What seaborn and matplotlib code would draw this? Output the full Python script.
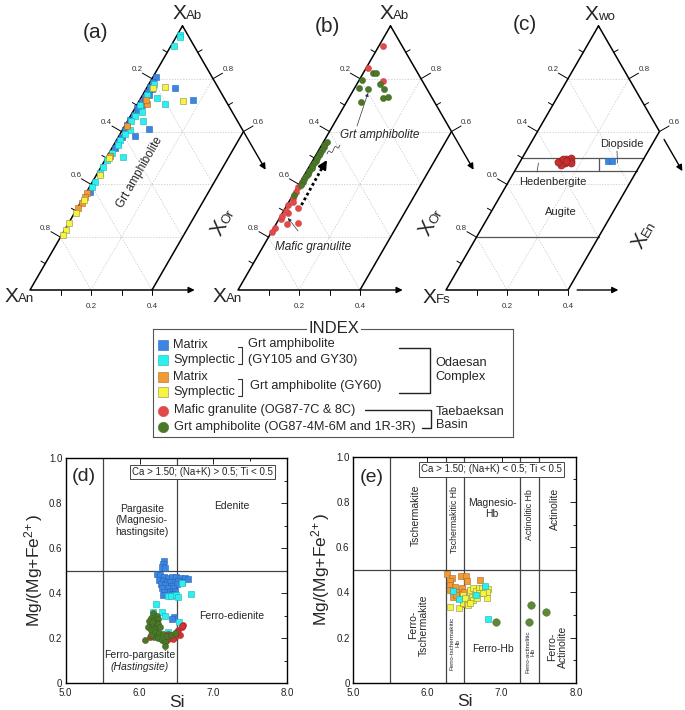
import numpy as np
import matplotlib
matplotlib.use('Agg')
import matplotlib.pyplot as plt
from matplotlib.ticker import MultipleLocator
import seaborn as sns

sns.set_style('white')
plt.rcParams['font.family'] = ['Liberation Sans', 'DejaVu Sans']
plt.rcParams['mathtext.fontset'] = 'custom'
plt.rcParams['mathtext.rm'] = 'Liberation Sans'
plt.rcParams['mathtext.it'] = 'Liberation Sans:italic'

# ---------------- data ----------------
# (a) plagioclase, fractions of Ab (top) and Or (right); An = 1 - Ab - Or
a_mtx1_ab = [0.806, 0.789, 0.77, 0.751, 0.732, 0.71, 0.688, 0.663, 0.644, 0.625, 0.606, 0.581,
             0.556, 0.537, 0.72, 0.70, 0.68, 0.76, 0.74, 0.372, 0.764, 0.72, 0.61, 0.583]
a_mtx1_or = [0.010, 0.010, 0.008, 0.012, 0.011, 0.011, 0.008, 0.008, 0.006, 0.006, 0.008, 0.010,
             0.011, 0.010, 0.016, 0.018, 0.014, 0.020, 0.020, 0.011, 0.093, 0.175, 0.085, 0.052]
a_sym1_ab = [0.966, 0.957, 0.924, 0.764, 0.739, 0.70, 0.66, 0.64, 0.606, 0.568, 0.55, 0.518,
             0.492, 0.467, 0.442, 0.41, 0.391, 0.726, 0.705, 0.672, 0.638, 0.505, 0.78, 0.59]
a_sym1_or = [0.009, 0.012, 0.010, 0.017, 0.013, 0.012, 0.015, 0.012, 0.025, 0.011, 0.012, 0.009,
             0.005, 0.007, 0.008, 0.008, 0.007, 0.054, 0.090, 0.030, 0.053, 0.054, 0.015, 0.016]
a_mtx2_ab = [0.705, 0.621, 0.508, 0.366, 0.353, 0.331, 0.309, 0.72]
a_mtx2_or = [0.030, 0.007, 0.008, 0.005, 0.004, 0.004, 0.004, 0.020]
a_sym2_ab = [0.768, 0.717, 0.764, 0.436, 0.341, 0.29, 0.253, 0.227, 0.208, 0.50]
a_sym2_or = [0.059, 0.144, 0.020, 0.011, 0.008, 0.006, 0.003, 0.003, 0.003, 0.010]

# (b) plagioclase, Taebaeksan Basin
b_gran_ab = [0.925, 0.842, 0.792, 0.41, 0.39, 0.37, 0.35, 0.334, 0.309, 0.29, 0.27, 0.25,
             0.252, 0.235, 0.221, 0.30, 0.32, 0.28]
b_gran_or = [0.012, 0.004, 0.078, 0.004, 0.003, 0.005, 0.004, 0.014, 0.043, 0.020, 0.007, 0.037,
             0.072, 0.004, 0.002, 0.006, 0.005, 0.003]
b_amph_ab = [0.562, 0.55, 0.54, 0.53, 0.52, 0.51, 0.50, 0.49, 0.48, 0.47, 0.46, 0.45, 0.44,
             0.43, 0.42, 0.41, 0.398, 0.36, 0.795, 0.82, 0.82, 0.763, 0.761, 0.779, 0.76,
             0.711, 0.726, 0.73]
b_amph_or = [0.010, 0.008, 0.012, 0.010, 0.009, 0.011, 0.008, 0.012, 0.010, 0.009, 0.011, 0.008,
             0.010, 0.009, 0.007, 0.008, 0.006, 0.004, 0.010, 0.033, 0.041, 0.016, 0.046, 0.076,
             0.100, 0.048, 0.111, 0.128]

# (c) pyroxene, Wo (top) and En (right)
c_gran_wo = [0.49, 0.485, 0.495, 0.48, 0.49, 0.50, 0.475, 0.485, 0.49, 0.48, 0.495, 0.487]
c_gran_en = [0.13, 0.14, 0.145, 0.15, 0.155, 0.16, 0.14, 0.125, 0.165, 0.17, 0.135, 0.15]
c_mtx1_wo = [0.49, 0.49]
c_mtx1_en = [0.287, 0.300]

# (d) amphibole, (Na+K) > 0.5
d_mtx1_si = [6.334, 6.32, 6.307, 6.34, 6.23, 6.276, 6.334, 6.39, 6.434, 6.49, 6.547, 6.61, 6.66,
             6.26, 6.32, 6.367, 6.41, 6.48, 6.52, 6.57, 6.29, 6.35, 6.43, 6.50, 6.30, 6.39,
             6.456, 6.33, 6.41, 6.48, 6.32, 6.44, 6.47, 6.44]
d_mtx1_mg = [0.545, 0.530, 0.518, 0.511, 0.484, 0.481, 0.474, 0.469, 0.474, 0.471, 0.467, 0.467,
             0.464, 0.459, 0.455, 0.449, 0.452, 0.452, 0.455, 0.449, 0.440, 0.437, 0.434, 0.440,
             0.425, 0.422, 0.422, 0.407, 0.407, 0.410, 0.392, 0.396, 0.296, 0.286]
d_sym1_si = [6.58, 6.39, 6.43, 6.49, 6.52, 6.70, 6.22, 6.185, 6.31, 6.35, 6.53, 6.39]
d_sym1_mg = [0.447, 0.389, 0.389, 0.392, 0.385, 0.397, 0.351, 0.318, 0.318, 0.300, 0.271, 0.227]
d_gran_si = [6.14, 6.57, 6.59, 6.52, 6.55, 6.48, 6.41, 6.39, 6.456, 6.50, 6.37, 6.58]
d_gran_mg = [0.207, 0.252, 0.259, 0.237, 0.215, 0.207, 0.203, 0.218, 0.197, 0.227, 0.192, 0.255]
d_amph_si = [6.185, 6.23, 6.16, 6.20, 6.25, 6.14, 6.185, 6.23, 6.21, 6.118, 6.154, 6.21, 6.26,
             6.32, 6.37, 6.43, 6.48, 6.20, 6.25, 6.30, 6.34, 6.07, 6.16, 6.127, 6.17, 6.245,
             6.276, 6.34]
d_amph_mg = [0.311, 0.300, 0.290, 0.280, 0.286, 0.253, 0.260, 0.270, 0.240, 0.252, 0.237, 0.227,
             0.222, 0.218, 0.212, 0.215, 0.222, 0.207, 0.200, 0.192, 0.185, 0.192, 0.215, 0.277,
             0.271, 0.262, 0.252, 0.166]

# (e) amphibole, (Na+K) < 0.5
e_mtx2_si = [6.269, 6.33, 6.31, 6.45, 6.52, 6.54, 6.71, 6.30, 6.37, 6.30, 6.35, 6.42, 6.46, 6.49,
             6.34, 6.42, 6.475, 6.73, 6.39]
e_mtx2_mg = [0.480, 0.465, 0.450, 0.472, 0.472, 0.450, 0.454, 0.432, 0.425, 0.410, 0.406, 0.403,
             0.420, 0.403, 0.380, 0.373, 0.347, 0.410, 0.388]
e_sym2_si = [6.31, 6.42, 6.48, 6.53, 6.55, 6.60, 6.57, 6.62, 6.655, 6.69, 6.73, 6.775, 6.82,
             6.80, 6.70, 6.64, 6.62, 6.55, 6.475, 6.51, 6.80, 6.745, 6.67, 6.57]
e_sym2_mg = [0.336, 0.329, 0.351, 0.358, 0.373, 0.380, 0.410, 0.418, 0.406, 0.420, 0.418, 0.420,
             0.415, 0.403, 0.395, 0.388, 0.366, 0.344, 0.388, 0.373, 0.376, 0.395, 0.373, 0.351]
e_sym1_si = [6.35, 6.43, 6.65, 6.775, 6.81]
e_sym1_mg = [0.406, 0.369, 0.388, 0.428, 0.282]
e_amph_si = [6.93, 7.39, 7.37, 7.60]
e_amph_mg = [0.267, 0.344, 0.270, 0.314]

# colours
BLUE, BLUE_E = '#3a86e2', '#2a64b4'
CYAN, CYAN_E = '#2cf0f0', '#20b0b4'
ORANGE, ORANGE_E = '#f59a32', '#a06a30'
YELLOW, YELLOW_E = '#f6f43c', '#8c8c55'
RED = '#e04a4a'
GREEN = '#4b7828'

W, H = 685, 710
S = 305.0           # full ternary side in pixels
SQ3 = np.sqrt(3) / 2

fig = plt.figure(figsize=(6.85, 7.10), dpi=100)


def tern_xy(top, right):
    top = np.asarray(top, float)
    right = np.asarray(right, float)
    return right + top / 2, top * SQ3


def tern_panel(x0, y0):
    left, right, top, bottom = x0 - 40, x0 + 255, y0 - 295, y0 + 25
    ax = fig.add_axes([left / W, 1 - bottom / H, (right - left) / W, (bottom - top) / H])
    ax.set_xlim((left - x0) / S, (right - x0) / S)
    ax.set_ylim((y0 - bottom) / S, (y0 - top) / S)
    ax.set_axis_off()

    def px(x, y):
        return (x - x0) / S, (y0 - y) / S
    return ax, px


def tern_frame(ax, bot_arrow=(0.4, 0.54), side_arrow=(0.6, 0.455)):
    grid = dict(color='#c4c4c4', lw=0.5, ls=(0, (2, 2)), zorder=1)
    for k in [0.2, 0.4, 0.6, 0.8]:
        x, y = tern_xy([k, k], [0, min(1 - k, 0.4)])
        ax.plot(x, y, **grid)
        r_end = min(1 - k, 0.4)
        x, y = tern_xy([1 - k, 1 - k - r_end], [0, r_end])
        ax.plot(x, y, **grid)
    x, y = tern_xy([0, 0.8], [0.2, 0.2])
    ax.plot(x, y, **grid)

    x, y = tern_xy([1, 0, 0, 0.6, 1], [0, 0, 0.4, 0.4, 0])
    ax.plot(x, y, color='black', lw=1.1, zorder=4)

    arr = dict(arrowstyle='-|>', color='black', lw=1.0, mutation_scale=9, shrinkA=0, shrinkB=0)
    ax.annotate('', xy=tern_xy(0, bot_arrow[1]), xytext=tern_xy(0, bot_arrow[0]), arrowprops=arr)
    t0, t1 = side_arrow
    ax.annotate('', xy=tern_xy(t1, 1 - t1), xytext=tern_xy(t0, 1 - t0), arrowprops=arr)

    tick = 5 / S
    lead = 11 / S
    tk = dict(color='black', lw=0.7, zorder=4)
    lab = dict(fontsize=5.8, color='#333333')
    # left edge
    nl = np.array([-SQ3, 0.5])
    for t in np.arange(1, 10) / 10:
        p = np.array(tern_xy(t, 0))
        labelled = round(t, 1) in (0.2, 0.4, 0.6, 0.8)
        q = p + nl * (lead if labelled else tick)
        ax.plot([p[0], q[0]], [p[1], q[1]], **tk)
        if labelled:
            ax.text(q[0], q[1], f'{1 - t:.1f}', ha='right', va='bottom', **lab)
    # upper right edge
    nr = np.array([SQ3, 0.5])
    for t in [0.9, 0.8, 0.7, 0.6]:
        p = np.array(tern_xy(t, 1 - t))
        labelled = round(t, 1) in (0.6, 0.8)
        q = p + nr * (lead if labelled else tick)
        ax.plot([p[0], q[0]], [p[1], q[1]], **tk)
        if labelled:
            ax.text(q[0], q[1], f'{t:.1f}', ha='left', va='bottom', **lab)
    # bottom edge
    for r in [0.1, 0.2, 0.3, 0.4]:
        ax.plot([r, r], [0, -tick], **tk)
        if round(r, 1) in (0.2, 0.4):
            ax.text(r, -16 / S, f'{r:.1f}', ha='center', va='center', **lab)


def vertex_label(ax, pos, main, sub, rot=0):
    ax.text(pos[0], pos[1], main, fontsize=15, ha='right', va='baseline',
            rotation=rot, rotation_mode='anchor')
    ax.text(pos[0], pos[1], sub, fontsize=9.5, ha='left', va='baseline',
            rotation=rot, rotation_mode='anchor')


def tern_scatter(ax, top, right, color, edge, marker, s, lw=0.4, alpha=1):
    x, y = tern_xy(top, right)
    sns.scatterplot(x=x, y=y, ax=ax, color=color, edgecolor=edge, marker=marker, s=s,
                    linewidth=lw, alpha=alpha, zorder=5, legend=False, clip_on=False)


# ---------------- (a) ----------------
x0 = 30
ax, px = tern_panel(x0, 290)
tern_frame(ax)
tern_scatter(ax, a_mtx1_ab, a_mtx1_or, BLUE, BLUE_E, 's', 16)
tern_scatter(ax, a_sym1_ab, a_sym1_or, CYAN, CYAN_E, 's', 16)
tern_scatter(ax, a_mtx2_ab, a_mtx2_or, ORANGE, ORANGE_E, 's', 16)
tern_scatter(ax, a_sym2_ab, a_sym2_or, YELLOW, YELLOW_E, 's', 16)
vertex_label(ax, px(186, 19), 'X', 'Ab')
vertex_label(ax, px(18, 302), 'X', 'An')
vertex_label(ax, px(x0 + 197, 224.5), 'X', 'Or', rot=60)
ax.text(*px(96, 32), '(a)', fontsize=15, ha='center', va='center')
ax.text(*px(140, 172), 'Grt amphibolite', fontsize=8.5, rotation=60, ha='center', va='center')

# ---------------- (b) ----------------
x0 = 238
ax, px = tern_panel(x0, 290)
tern_frame(ax)
tern_scatter(ax, b_gran_ab, b_gran_or, RED, '#cc3c3c', 'o', 20, lw=0.3)
tern_scatter(ax, b_amph_ab, b_amph_or, GREEN, '#3b6020', 'o', 20, lw=0.3)
vertex_label(ax, px(393, 19), 'X', 'Ab')
vertex_label(ax, px(226, 302), 'X', 'An')
vertex_label(ax, px(x0 + 197, 224.5), 'X', 'Or', rot=60)
ax.text(*px(327, 27), '(b)', fontsize=15, ha='center', va='center')
ax.text(*px(380, 135), 'Grt amphibolite', fontsize=8.5, style='italic', ha='center', va='center')
ax.text(*px(313, 247), 'Mafic granulite', fontsize=8.5, style='italic', ha='center', va='center')
ax.annotate('', xy=px(368, 93), xytext=px(357, 126),
            arrowprops=dict(arrowstyle='-|>', color='#333333', lw=0.5, mutation_scale=5,
                            shrinkA=0, shrinkB=0))
ax.annotate('', xy=px(288, 218), xytext=px(298, 231),
            arrowprops=dict(arrowstyle='-|>', color='#333333', lw=0.5, mutation_scale=5,
                            shrinkA=0, shrinkB=0))
sq_t = np.linspace(0, 1, 40)
sq_x = 340 - 13 * sq_t
sq_y = 145 + 9 * sq_t + 1.8 * np.sin(sq_t * 4 * np.pi)
sq = np.array([px(a, b) for a, b in zip(sq_x, sq_y)])
ax.plot(sq[:, 0], sq[:, 1], color='#333333', lw=0.5)
d0, d1 = px(301.5, 205), px(322, 168)
ax.plot([d0[0], d1[0]], [d0[1], d1[1]], color='black', lw=2.0, ls=(0, (1, 1)))
ax.annotate('', xy=px(327, 160), xytext=px(321, 170),
            arrowprops=dict(arrowstyle='-|>', color='black', lw=1.5, mutation_scale=13,
                            shrinkA=0, shrinkB=0))

# ---------------- (c) ----------------
x0 = 446
ax, px = tern_panel(x0, 290)
tern_frame(ax, bot_arrow=(0.43, 0.565), side_arrow=(0.57, 0.45))
field = dict(color='#555555', lw=0.9, zorder=3)
for w in [0.5, 0.45, 0.2]:
    x, y = tern_xy([w, w], [0, 0.4])
    ax.plot(x, y, **field)
ax.plot([0.5, 0.5], [0.45 * SQ3, 0.5 * SQ3], **field)
tern_scatter(ax, c_gran_wo, c_gran_en, '#c83030', '#8a1c1c', 'o', 26, lw=0.4)
tern_scatter(ax, c_mtx1_wo, c_mtx1_en, BLUE, BLUE_E, 's', 16)
vertex_label(ax, px(598, 20), 'X', 'wo')
vertex_label(ax, px(436, 303), 'X', 'Fs')
vertex_label(ax, px(x0 + 202, 237.5), 'X', 'En', rot=60)
ax.text(*px(525, 24), '(c)', fontsize=15, ha='center', va='center')
ax.text(*px(622, 144), 'Diopside', fontsize=8, ha='center', va='center')
ax.text(*px(553, 182), 'Hedenbergite', fontsize=8, ha='center', va='center')
ax.text(*px(561, 212), 'Augite', fontsize=8, ha='center', va='center')
for a, b in [((617, 151), (617.5, 163)), ((537, 172), (538.5, 163))]:
    p, q = px(*a), px(*b)
    ax.plot([p[0], q[0]], [p[1], q[1]], color='#333333', lw=0.5)

# ---------------- legend (INDEX) ----------------
lg = fig.add_axes([153 / W, 1 - 437 / H, 360 / W, 108 / H])
lg.set_xlim(153, 513)
lg.set_ylim(437, 329)
lg.set_xticks([])
lg.set_yticks([])
for sp in lg.spines.values():
    sp.set_color('#555555')
    sp.set_linewidth(0.8)
lg.text(334, 328.5, 'INDEX', fontsize=12, ha='center', va='center', zorder=6,
        bbox=dict(facecolor='white', edgecolor='none', pad=1.5), clip_on=False)
LF = 9.2
entries = [(345, BLUE, BLUE_E, 's', 'Matrix'), (360, CYAN, CYAN_E, 's', 'Symplectic'),
           (377, ORANGE, ORANGE_E, 's', 'Matrix'), (391.5, YELLOW, YELLOW_E, 's', 'Symplectic'),
           (410.5, RED, RED, 'o', 'Mafic granulite (OG87-7C & 8C)'),
           (427, GREEN, GREEN, 'o', 'Grt amphibolite (OG87-4M-6M and 1R-3R)')]
for yy, fc, ec, mk, txt in entries:
    lg.scatter([162.5], [yy], s=44 if mk == 's' else 56, marker=mk, color=fc, edgecolor=ec,
               linewidth=0.4)
    lg.text(173.5, yy, txt, fontsize=LF, ha='left', va='center')
br = dict(color='#333333', lw=0.8)
for ya, yb in [(347, 364), (379, 396)]:
    lg.plot([238, 242, 242, 238], [ya, ya, yb, yb], **br)
lg.text(248, 344.5, 'Grt amphibolite', fontsize=LF, ha='left', va='center')
lg.text(248, 359.5, '(GY105 and GY30)', fontsize=LF, ha='left', va='center')
lg.text(250, 386.5, 'Grt amphibolite (GY60)', fontsize=LF, ha='left', va='center')
lg.plot([399, 430, 430, 399], [348, 348, 393, 393], color='#222222', lw=1.0)
lg.text(435, 370, 'Odaesan\nComplex', fontsize=LF, ha='left', va='center', linespacing=1.15)
lg.plot([365, 431, 431, 422], [409.5, 409.5, 428, 428], color='#222222', lw=1.0)
lg.text(436, 418.5, 'Taebaeksan\nBasin', fontsize=LF, ha='left', va='center', linespacing=1.1)


# ---------------- (d) and (e) ----------------
def amph_axes(rect, vlines):
    ax = fig.add_axes(rect)
    ax.set_xlim(5, 8)
    ax.set_ylim(0, 1)
    for v in vlines:
        ax.axvline(v, color='#444444', lw=0.9, zorder=1)
    ax.axhline(0.5, color='#444444', lw=0.9, zorder=1)
    ax.set_xticks([5, 6, 7, 8])
    ax.set_xticklabels(['5.0', '6.0', '7.0', '8.0'])
    ax.set_yticks([0, 0.2, 0.4, 0.6, 0.8, 1.0])
    ax.set_yticklabels(['0', '0.2', '0.4', '0.6', '0.8', '1.0'])
    ax.xaxis.set_minor_locator(MultipleLocator(0.5))
    ax.yaxis.set_minor_locator(MultipleLocator(0.1))
    ax.tick_params(which='both', direction='in', top=True, right=True, labelsize=7,
                   colors='#222222', width=0.7)
    ax.tick_params(axis='x', which='major', pad=3.5)
    ax.tick_params(axis='y', which='major', pad=2.5)
    ax.tick_params(which='major', length=4)
    ax.tick_params(which='minor', length=2.5)
    for sp in ax.spines.values():
        sp.set_color('black')
        sp.set_linewidth(1.0)
    ax.set_xlabel('Si', fontsize=12.5, labelpad=-2.5)
    ax.set_ylabel(r'Mg/(Mg+Fe$^{2\!+}$)', fontsize=12.5, labelpad=3)
    return ax


def amph_scatter(ax, si, mg, color, edge, marker, s, lw=0.4):
    sns.scatterplot(x=si, y=mg, ax=ax, color=color, edgecolor=edge, marker=marker, s=s,
                    linewidth=lw, zorder=3, legend=False)


box = dict(facecolor='white', edgecolor='#444444', lw=0.7, pad=1.6)
FL = 7.5

ax = amph_axes([65.7 / W, 1 - 683.3 / H, 221.6 / W, 225 / H], [5.5, 6.5])
amph_scatter(ax, d_mtx1_si, d_mtx1_mg, BLUE, BLUE_E, 's', 16)
amph_scatter(ax, d_sym1_si, d_sym1_mg, CYAN, CYAN_E, 's', 16)
amph_scatter(ax, d_gran_si, d_gran_mg, '#d03434', '#9a2222', 'o', 20, lw=0.3)
amph_scatter(ax, d_amph_si, d_amph_mg, GREEN, '#35561c', 'o', 20, lw=0.3)
ax.text(5.24, 0.918, '(d)', fontsize=14, ha='center', va='center')
ax.text(6.85, 0.94, 'Ca > 1.50; (Na+K) > 0.5; Ti < 0.5', fontsize=7, ha='center',
        va='center', bbox=box)
ax.text(6.03, 0.725, 'Pargasite\n(Magnesio-\nhastingsite)', fontsize=FL, ha='center',
        va='center', linespacing=1.2)
ax.text(7.25, 0.79, 'Edenite', fontsize=FL, ha='center', va='center')
ax.text(7.25, 0.30, 'Ferro-edienite', fontsize=FL, ha='center', va='center')
ax.text(6.0, 0.126, 'Ferro-pargasite', fontsize=FL, ha='center', va='center')
ax.text(6.0, 0.071, '(Hastingsite)', fontsize=FL, ha='center', va='center', style='italic')

ax = amph_axes([353 / W, 1 - 682.7 / H, 223 / W, 226 / H], [5.5, 6.25, 6.5, 7.25, 7.5])
amph_scatter(ax, e_mtx2_si, e_mtx2_mg, ORANGE, ORANGE_E, 's', 16)
amph_scatter(ax, e_sym2_si, e_sym2_mg, YELLOW, YELLOW_E, 's', 16)
amph_scatter(ax, e_sym1_si, e_sym1_mg, CYAN, CYAN_E, 's', 16)
amph_scatter(ax, e_amph_si, e_amph_mg, '#5f8738', '#4a6e2a', 'o', 30, lw=0.3)
ax.text(5.25, 0.91, '(e)', fontsize=14, ha='center', va='center')
ax.text(6.866, 0.944, 'Ca > 1.50; (Na+K) < 0.5; Ti < 0.5', fontsize=7, ha='center',
        va='center', bbox=box)
lab_e = [(5.85, 0.74, 'Tschermakite', FL, 90), (6.37, 0.72, 'Tschermakitic Hb', 6.3, 90),
         (6.87, 0.77, 'Magnesio-\nHb', FL, 0), (7.375, 0.742, 'Actinolitic Hb', 6.3, 90),
         (7.72, 0.77, 'Actinolite', FL, 90), (5.88, 0.255, 'Ferro-\nTschermakite', FL, 90),
         (6.372, 0.174, 'Ferro-tschermakitic\nHb', 4.5, 90), (6.88, 0.148, 'Ferro-Hb', FL, 0),
         (7.39, 0.137, 'Ferro-actinolitic\nHb', 4.5, 90), (7.75, 0.16, 'Ferro-\nActinolite', FL, 90)]
for xx, yy, txt, fs, rot in lab_e:
    ax.text(xx, yy, txt, fontsize=fs, rotation=rot, ha='center', va='center', linespacing=1.15)

fig.savefig('out.png', dpi=100)
